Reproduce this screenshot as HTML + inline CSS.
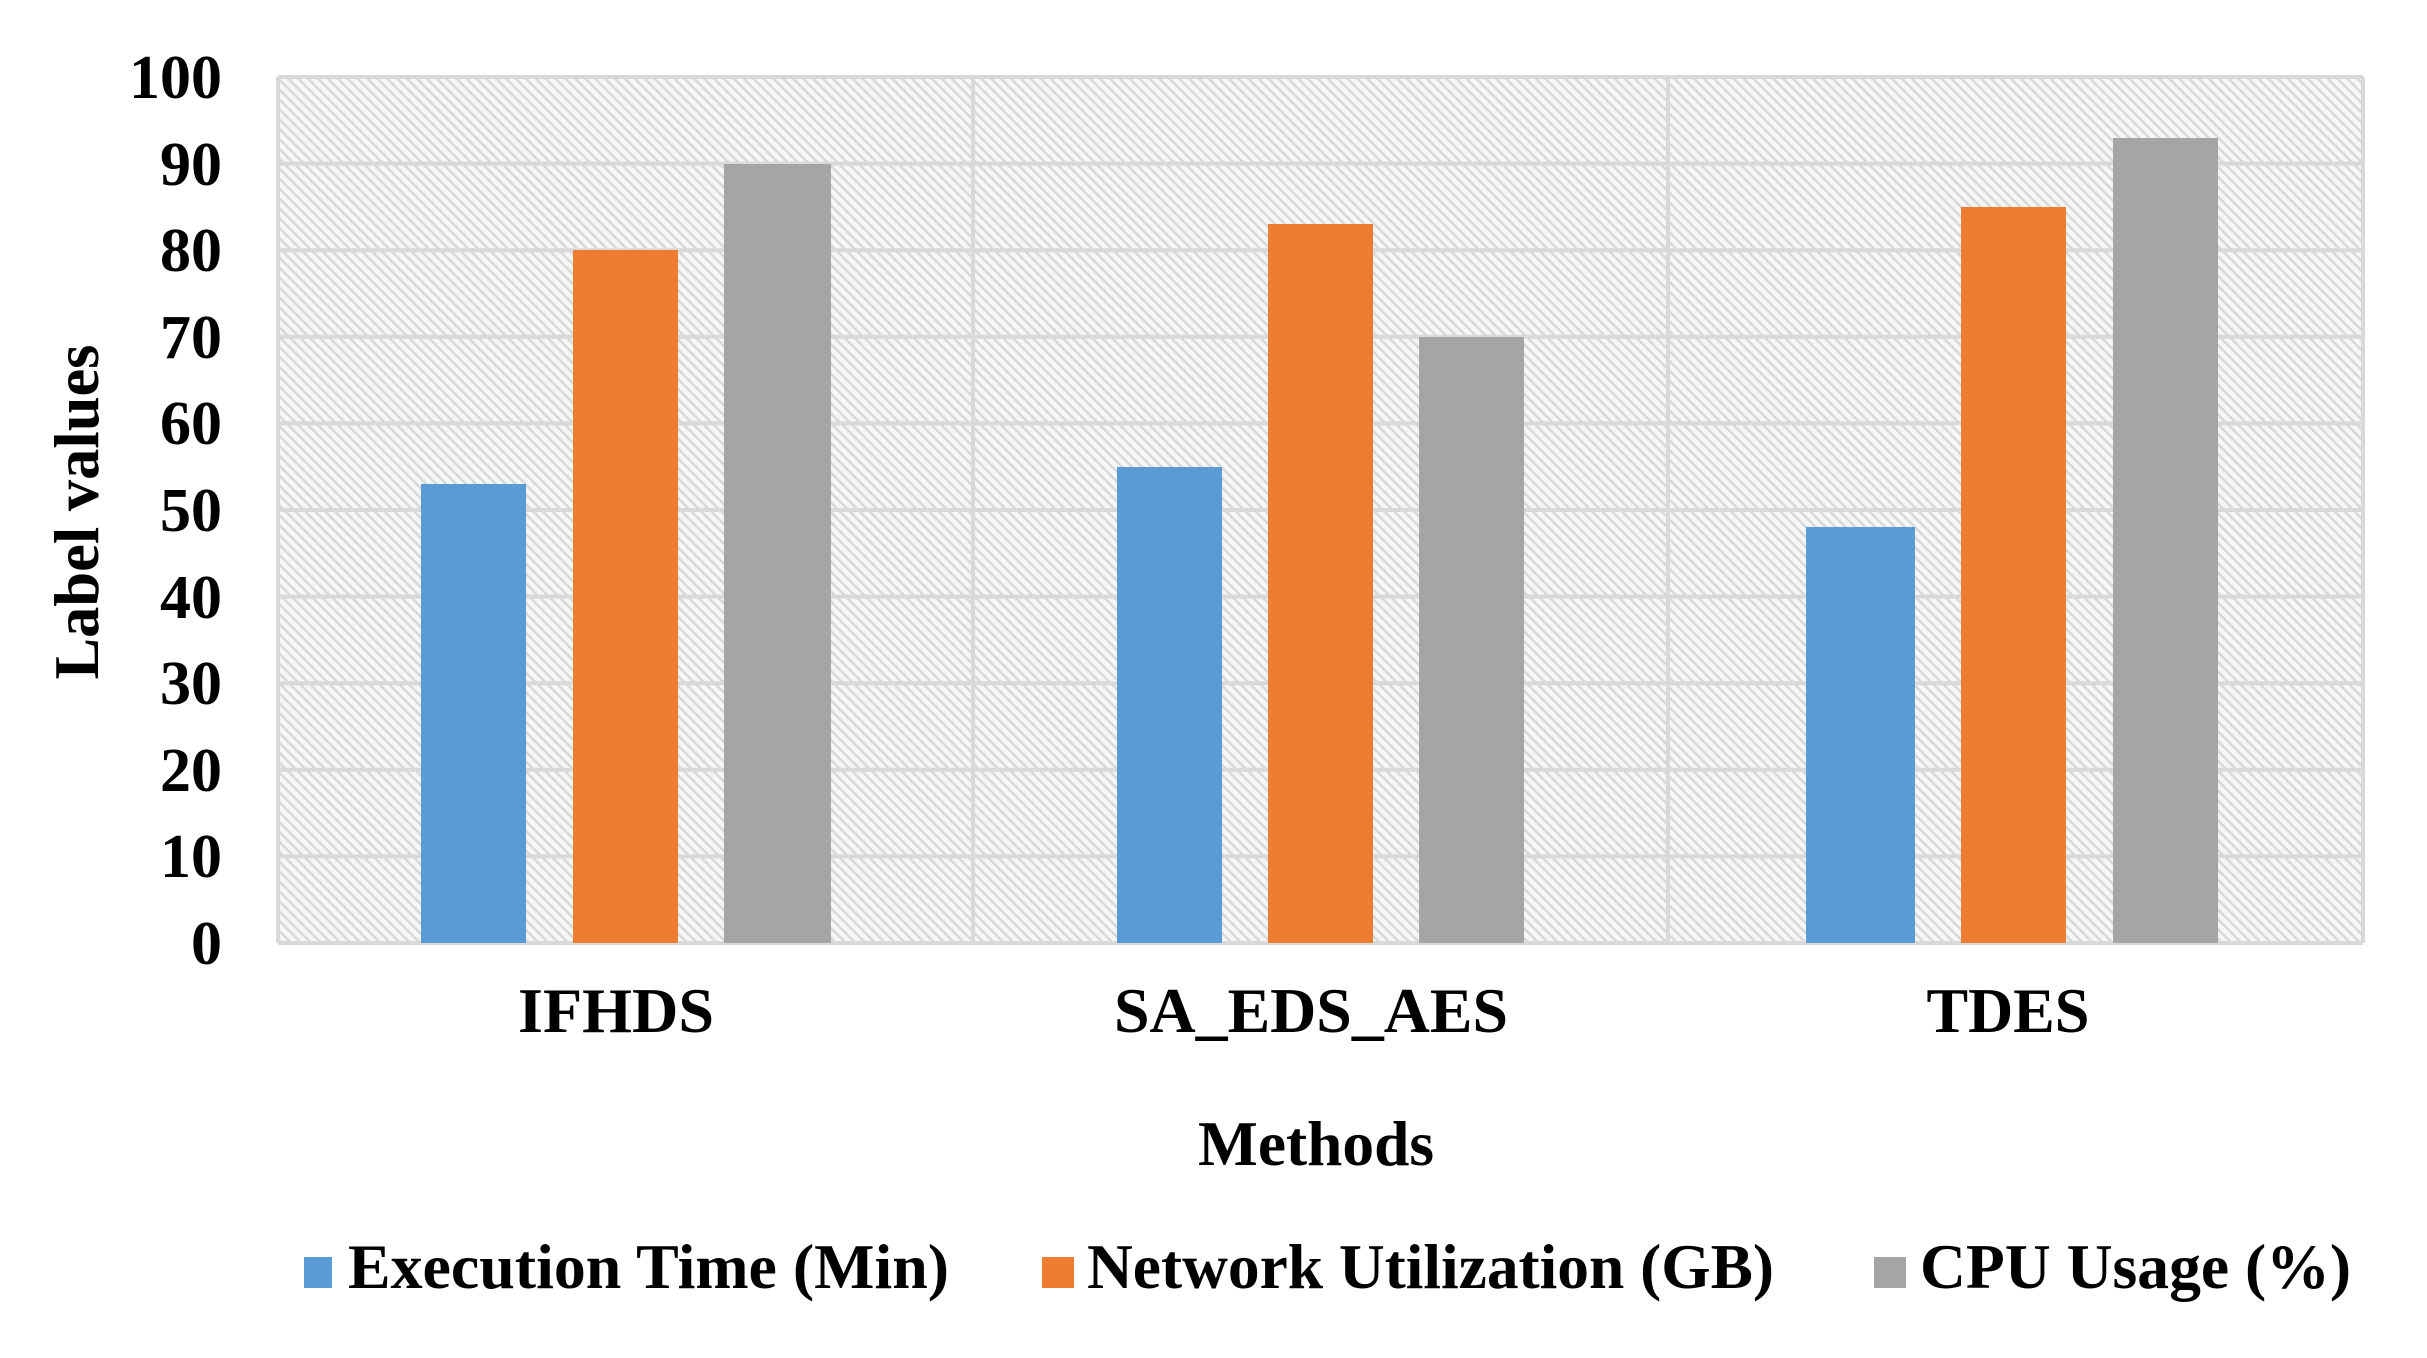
<!DOCTYPE html>
<html><head><meta charset="utf-8"><style>
html,body{margin:0;padding:0;background:#fff;}
svg{display:block;}
text{font-family:"Liberation Serif",serif;font-weight:bold;fill:#000;}
</style></head><body>
<svg width="2427" height="1358" viewBox="0 0 2427 1358" xmlns="http://www.w3.org/2000/svg">
<defs>
<pattern id="h" width="7" height="7" patternUnits="userSpaceOnUse" patternTransform="rotate(-45)">
<rect width="7" height="7" fill="#f6f6f6"/>
<rect width="2.5" height="7" fill="#d8d8d8"/>
</pattern>
</defs>
<rect x="278" y="77" width="2085" height="866" fill="url(#h)"/>
<g stroke="#d9d9d9" stroke-width="4" fill="none">
<line x1="278" y1="77" x2="2363" y2="77"/>
<line x1="278" y1="163.6" x2="2363" y2="163.6"/>
<line x1="278" y1="250.2" x2="2363" y2="250.2"/>
<line x1="278" y1="336.8" x2="2363" y2="336.8"/>
<line x1="278" y1="423.4" x2="2363" y2="423.4"/>
<line x1="278" y1="510" x2="2363" y2="510"/>
<line x1="278" y1="596.6" x2="2363" y2="596.6"/>
<line x1="278" y1="683.2" x2="2363" y2="683.2"/>
<line x1="278" y1="769.8" x2="2363" y2="769.8"/>
<line x1="278" y1="856.4" x2="2363" y2="856.4"/>
<line x1="278" y1="943" x2="2363" y2="943"/>
<line x1="278" y1="77" x2="278" y2="943"/>
<line x1="973" y1="77" x2="973" y2="943"/>
<line x1="1668" y1="77" x2="1668" y2="943"/>
<line x1="2363" y1="77" x2="2363" y2="943"/>
</g>
<g>
<rect x="421" y="484" width="105" height="459" fill="#5b9bd5"/>
<rect x="573" y="250" width="105" height="693" fill="#ed7d31"/>
<rect x="724" y="164" width="107" height="779" fill="#a5a5a5"/>
<rect x="1117" y="467" width="105" height="476" fill="#5b9bd5"/>
<rect x="1268" y="224" width="105" height="719" fill="#ed7d31"/>
<rect x="1419" y="337" width="105" height="606" fill="#a5a5a5"/>
<rect x="1806" y="527" width="109" height="416" fill="#5b9bd5"/>
<rect x="1961" y="207" width="105" height="736" fill="#ed7d31"/>
<rect x="2113" y="138" width="105" height="805" fill="#a5a5a5"/>
</g>
<g font-size="62" text-anchor="end">
<text x="222" y="98">100</text>
<text x="222" y="185">90</text>
<text x="222" y="271">80</text>
<text x="222" y="358">70</text>
<text x="222" y="444">60</text>
<text x="222" y="531">50</text>
<text x="222" y="618">40</text>
<text x="222" y="704">30</text>
<text x="222" y="791">20</text>
<text x="222" y="877">10</text>
<text x="222" y="964">0</text>
</g>
<g font-size="64" text-anchor="middle">
<text x="616" y="1032" textLength="196" lengthAdjust="spacingAndGlyphs">IFHDS</text>
<text x="1311" y="1032" textLength="394" lengthAdjust="spacingAndGlyphs">SA_EDS_AES</text>
<text x="2008" y="1032" textLength="163" lengthAdjust="spacingAndGlyphs">TDES</text>
<text x="1316" y="1165" textLength="236" lengthAdjust="spacingAndGlyphs">Methods</text>
</g>
<text transform="translate(98,512) rotate(-90)" font-size="64" text-anchor="middle" textLength="335" lengthAdjust="spacingAndGlyphs">Label values</text>
<rect x="304" y="1257" width="28" height="31" fill="#5b9bd5"/>
<text x="348" y="1288" font-size="64" textLength="601" lengthAdjust="spacingAndGlyphs">Execution Time (Min)</text>
<rect x="1042" y="1257" width="32" height="31" fill="#ed7d31"/>
<text x="1087" y="1288" font-size="64" textLength="687" lengthAdjust="spacingAndGlyphs">Network Utilization (GB)</text>
<rect x="1874" y="1257" width="32" height="31" fill="#a5a5a5"/>
<text x="1920" y="1288" font-size="64" textLength="431" lengthAdjust="spacingAndGlyphs">CPU Usage (%)</text>
</svg>
</body></html>
